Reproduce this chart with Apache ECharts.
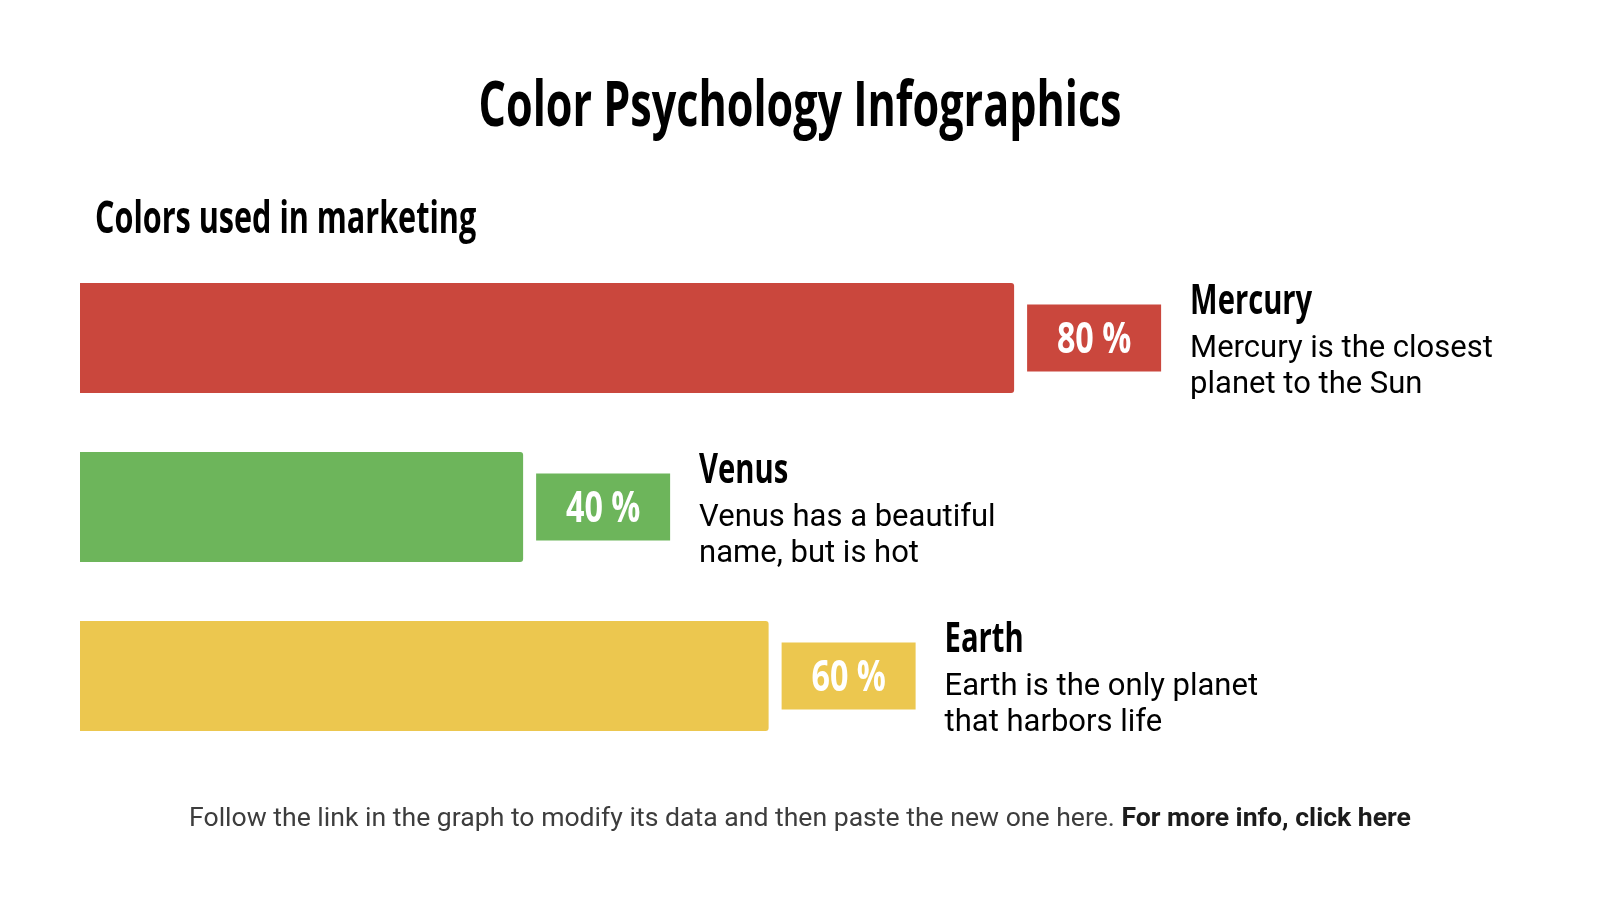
<!DOCTYPE html>
<html>
<head>
<meta charset="utf-8">
<style>
  html, body { margin: 0; padding: 0; background: #ffffff; }
  #chart { width: 1600px; height: 900px; }
</style>
<script src="https://cdn.jsdelivr.net/npm/echarts@6/dist/echarts.min.js"></script>
</head>
<body>
<div id="chart"></div>
<script>
const categories = ['Mercury', 'Venus', 'Earth'];
const values = [80, 40, 60];
const descLine1 = ['Mercury is the closest', 'Venus has a beautiful', 'Earth is the only planet'];
const descLine2 = ['planet to the Sun', 'name, but is hot', 'that harbors life'];
const colors = ['#CA473D', '#6DB55B', '#ECC74F'];

const titleText = 'Color Psychology Infographics';
const subtitleText = 'Colors used in marketing';
const footerPlain = 'Follow the link in the graph to modify its data and then paste the new one here. ';
const footerBold = 'For more info, click here';

const COND = "'Open Sans', 'Noto Sans', sans-serif";
const ROBOTO = "Roboto, 'Noto Sans', sans-serif";

// horizontal squeeze to imitate an extra-condensed bold face
const mctx = document.createElement('canvas').getContext('2d');
mctx.font = "bold 62px " + COND;
const R = 643 / mctx.measureText(titleText).width;

const chart = echarts.init(document.getElementById('chart'), null, { renderer: 'canvas' });

function renderLabels(params, api) {
  const v = api.value(0);
  const idx = api.value(1);
  const pt = api.coord([v, idx]);
  const ex = pt[0], cy = pt[1];
  const i = params.dataIndex;
  return {
    type: 'group',
    children: [
      { type: 'rect', shape: { x: ex + 13, y: cy - 33.5, width: 134, height: 67 }, style: { fill: colors[i] } },
      { type: 'text', x: ex + 80, y: cy + 3, scaleX: R * 1.08,
        style: { text: v + ' %', fill: '#ffffff', fontFamily: COND, fontWeight: 'bold', fontSize: 43, align: 'center', verticalAlign: 'middle' } },
      { type: 'text', x: ex + 176, y: cy - 36, scaleX: R,
        style: { text: categories[i], fill: '#000000', fontFamily: COND, fontWeight: 'bold', fontSize: 42, align: 'left', verticalAlign: 'middle' } },
      { type: 'text', x: ex + 176, y: cy + 11.5,
        style: { text: descLine1[i], fill: '#000000', fontFamily: ROBOTO, fontSize: 31, align: 'left', verticalAlign: 'middle' } },
      { type: 'text', x: ex + 176, y: cy + 47.5,
        style: { text: descLine2[i], fill: '#000000', fontFamily: ROBOTO, fontSize: 31, align: 'left', verticalAlign: 'middle' } }
    ]
  };
}

chart.setOption({
  backgroundColor: '#ffffff',
  animation: false,
  title: [
    {
      text: '{a|' + footerPlain + '}{b|' + footerBold + '}', left: 'center', top: 804, padding: 0,
      textStyle: {
        rich: {
          a: { fontFamily: ROBOTO, fontSize: 26.6, lineHeight: 30, fontWeight: 'normal', color: '#3d3d3d' },
          b: { fontFamily: ROBOTO, fontSize: 26.6, lineHeight: 30, fontWeight: 'bold', color: '#1c1c1c' }
        }
      }
    }
  ],
  graphic: [
    { type: 'text', x: 800, y: 108, scaleX: R, silent: true,
      style: { text: titleText, fill: '#000000', fontFamily: COND, fontWeight: 'bold', fontSize: 62, align: 'center', verticalAlign: 'middle' } },
    { type: 'text', x: 95, y: 220, scaleX: R, silent: true,
      style: { text: subtitleText, fill: '#000000', fontFamily: COND, fontWeight: 'bold', fontSize: 44, align: 'left', verticalAlign: 'middle' } }
  ],
  grid: { left: 80, top: 253.5, height: 507, width: 1179.6, containLabel: false },
  xAxis: { type: 'value', min: 3.9, max: 100, show: false },
  yAxis: { type: 'category', data: categories, inverse: true, show: false },
  series: [
    {
      type: 'bar', barWidth: 110, silent: true,
      data: values.map((v, i) => ({ value: v, itemStyle: { color: colors[i], borderRadius: [0, 3, 3, 0] } }))
    },
    {
      type: 'custom', silent: true,
      encode: { x: 0, y: 1 },
      data: values.map((v, i) => [v, i]),
      renderItem: renderLabels
    }
  ]
});
</script>
</body>
</html>
